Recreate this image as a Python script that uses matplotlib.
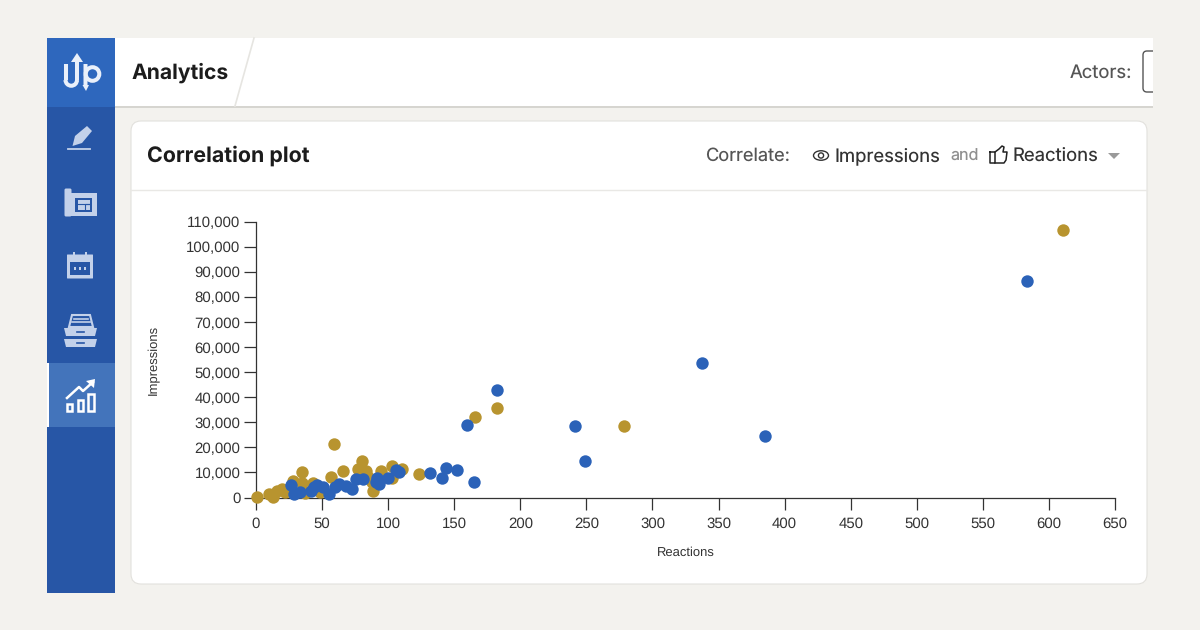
import matplotlib
matplotlib.use("Agg")
import matplotlib.pyplot as plt
from matplotlib.patches import Arc, FancyBboxPatch, Rectangle, Polygon, Circle, Ellipse
from matplotlib.ticker import FuncFormatter

plt.rcParams["text.hinting"] = "no_hinting"
plt.rcParams["text.hinting_factor"] = 1

# values
gold_x = [0.5, 10, 13, 16, 19.5, 22, 28, 34.5, 34.5, 37, 43, 48.5, 56.5, 59, 65.5, 80.5, 77, 83, 85,
          87.5, 88.7, 94.5, 102.7, 102.7, 110.7, 123, 165.7, 182.6, 278.5, 610.6]
gold_y = [300, 1300, 300, 2700, 3300, 2300, 6600, 10000, 5600, 1700, 5900, 2300, 8000, 21200, 10700,
          14600, 11500, 10600, 8300, 6300, 2500, 10400, 12600, 7700, 11500, 9400, 32000, 35600, 28500, 106800]
blue_x = [26.5, 28.8, 33, 41.4, 44, 46.4, 51, 55.5, 60, 63, 68, 73, 75.4, 80.7, 91.3, 90.8, 93, 100,
          106, 108, 132, 140.5, 144, 152, 164.7, 159.6, 182.4, 241.4, 249, 337.5, 385.2, 583.5]
blue_y = [5000, 1400, 2300, 2700, 4000, 5000, 4300, 1300, 4000, 5400, 4600, 3300, 7400, 7400, 7700,
          6300, 5300, 7700, 10800, 10200, 9600, 7900, 11800, 11000, 6200, 29000, 43000, 28500, 14600,
          53700, 24500, 86500]
x_ticks = list(range(0, 651, 50))
y_ticks = list(range(0, 110001, 10000))

BG = "#f3f2ee"
SIDE = "#2756a6"
LOGO = "#2e67bd"
ACTIVE = "#4374bb"
ICON = "#c3d1ea"
LOGO_INK = "#eaf0fa"
GOLD = "#b8942f"
BLUE = "#2b62b8"
INK = "#1c1c1c"
AXIS = "#333333"

fig = plt.figure(figsize=(12, 6.3), dpi=100, facecolor=BG)

# page chrome drawn in pixel coordinates
ui = fig.add_axes([0, 0, 1, 1])
ui.set_xlim(0, 1200)
ui.set_ylim(630, 0)
ui.axis("off")

ui.add_patch(Rectangle((115, 106), 1038, 2, color="#d6d5d0", lw=0))
ui.add_patch(Rectangle((115, 38), 1038, 68, color="white", lw=0))
ui.plot([254, 235], [38, 106], color="#e6e5e1", lw=1.2)
ui.add_patch(Rectangle((47, 107), 68, 486, color=SIDE, lw=0))
ui.add_patch(Rectangle((47, 38), 68, 69, color=LOGO, lw=0))
ui.add_patch(Rectangle((47, 363), 68, 64, color="white", lw=0))
ui.add_patch(Rectangle((49, 363), 66, 64, color=ACTIVE, lw=0))

# logo: u whose right side is the arrow, then p
ui.plot([65.5, 65.5], [64, 80], color=LOGO_INK, lw=2.9, solid_capstyle="butt")
ui.add_patch(Arc((71.25, 80), 11.5, 11.5, theta1=0, theta2=180, color=LOGO_INK, lw=2.9))
ui.add_patch(Polygon([(77, 53), (71, 62), (75, 62), (75, 80), (79, 80), (79, 62), (83, 62)],
                     color=LOGO_INK, lw=0))
ui.add_patch(Circle((92.5, 74), 6.8, fc="none", ec=LOGO_INK, lw=2.9))
ui.add_patch(Polygon([(83.5, 64), (87.5, 64), (87.5, 85), (89, 85), (86, 91), (82.5, 85), (83.5, 85)],
                     color=LOGO_INK, lw=0))

# pencil icon
ui.add_patch(Polygon([(72.5, 146), (75, 136), (87, 126), (92, 131), (82, 143)], color=ICON, lw=0))
ui.plot([68, 90], [149, 149], color=ICON, lw=1.3)

# blueprint icon
ui.add_patch(FancyBboxPatch((66, 190), 4, 25, boxstyle="round,pad=1.5", color=ICON, lw=0))
ui.add_patch(Rectangle((70, 193), 27, 23, fc=ICON, ec="none"))
ui.add_patch(Rectangle((75, 198), 17, 14, fc=SIDE, ec="none"))
ui.add_patch(Rectangle((78, 200), 12, 10, fc=ICON, ec="none"))
ui.plot([78, 90, 85, 85], [204, 204, 204, 210], color=SIDE, lw=0.8)

# calendar icon
ui.add_patch(FancyBboxPatch((67.5, 255), 25, 23, boxstyle="round,pad=0.5", color=ICON, lw=0))
ui.add_patch(Rectangle((70, 262), 20, 13, color=SIDE, lw=0))
ui.add_patch(Rectangle((73, 252), 2, 4, color=ICON, lw=0))
ui.add_patch(Rectangle((85, 252), 2, 4, color=ICON, lw=0))
for dx in [73.5, 78.5, 83.5]:
    ui.add_patch(Rectangle((dx, 267), 2.5, 2.5, color=ICON, lw=0))

# drawers icon
ui.add_patch(Polygon([(69, 327), (72, 315), (90, 315), (93, 327)], fc=SIDE, ec=ICON, lw=1.5))
for ly, x0, x1 in [(319, 74, 88), (322, 72, 90)]:
    ui.plot([x0, x1], [ly, ly], color=ICON, lw=1.2)
ui.add_patch(Polygon([(64, 328), (97, 328), (95, 336), (66, 336)], color=ICON, lw=0))
ui.add_patch(Polygon([(64, 339), (97, 339), (95, 347), (66, 347)], color=ICON, lw=0))
ui.plot([77, 84], [332, 332], color=SIDE, lw=1.2)
ui.plot([77, 84], [343, 343], color=SIDE, lw=1.2)

# analytics icon
for bx, bw, by in [(67, 5, 404), (78, 5, 400), (88, 6, 394)]:
    ui.add_patch(Rectangle((bx, by), bw, 410.5 - by, fc="none", ec="white", lw=1.8))
ui.plot([67, 79, 83, 93], [398, 387, 391, 382], color="white", lw=1.8)
ui.add_patch(Polygon([(95, 379), (86, 381), (94, 388)], color="white", lw=0))

# header text
ui.text(132, 79, "Analytics", color=INK, fontsize=15.2, fontweight="bold", family="Inter", va="baseline")
ui.text(1070, 78, "Actors:", color="#555555", fontsize=13.3, family="Inter", va="baseline")
ui.add_patch(FancyBboxPatch((1143, 51), 30, 41, boxstyle="round,pad=0,rounding_size=4",
                            fc="white", ec="#555555", lw=1))
ui.add_patch(Rectangle((1153, 38), 47, 80, color=BG, lw=0, zorder=3))

# card
ui.add_patch(FancyBboxPatch((131, 121), 1016, 463, boxstyle="round,pad=0,rounding_size=10",
                            fc="white", ec="#e2e1dd", lw=0.8))
ui.plot([131, 1147], [190, 190], color="#e9e8e5", lw=1)
ui.text(147, 162, "Correlation plot", color=INK, fontsize=15.4, fontweight="bold", family="Inter", va="baseline")
ui.text(705, 161, "Correlate:", color="#555555", fontsize=13.1, family="Inter", va="baseline")
ui.text(835, 161, "Impressions", color="#333333", fontsize=13.3, family="Inter", va="baseline")
ui.text(950, 161, "and", color="#8f8f8f", fontsize=11.6, family="Inter", va="baseline")
ui.text(1013, 161, "Reactions", color="#333333", fontsize=13.3, family="Inter", va="baseline")

# eye icon
ui.add_patch(Ellipse((821, 155.5), 15, 9.5, fc="none", ec="#333333", lw=1))
ui.add_patch(Circle((821, 155.5), 2.6, fc="none", ec="#333333", lw=1))

# thumb icon
ui.plot([990, 995, 995, 990, 990], [152, 152, 163, 163, 152], color="#222222", lw=1.1)
ui.plot([995, 999, 1002, 1004, 1003, 1007, 1006, 1004, 995],
        [152, 149, 146, 147, 152, 152, 160, 163, 163], color="#222222", lw=1.1)

# dropdown caret
ui.add_patch(Polygon([(1108, 153), (1120, 153), (1114, 159)], color="#9a9a9a", lw=0))

# chart
ax = fig.add_axes([256 / 1200, (630 - 497.5) / 630, 859 / 1200, 275.5 / 630])
ax.patch.set_alpha(0)
ax.scatter(gold_x, gold_y, s=80, color=GOLD, linewidths=0, clip_on=False, zorder=3)
ax.scatter(blue_x, blue_y, s=80, color=BLUE, linewidths=0, clip_on=False, zorder=4)
ax.set_xlim(0, 650)
ax.set_ylim(0, 110000)
ax.set_xticks(x_ticks)
ax.set_yticks(y_ticks)
ax.yaxis.set_major_formatter(FuncFormatter(lambda v, pos: f"{int(v):,}"))
ax.tick_params(length=8.3, width=0.9, color=AXIS, labelsize=10.7, labelcolor=AXIS)
ax.tick_params(axis="x", pad=5.5)
ax.tick_params(axis="y", pad=3)
for label in ax.get_xticklabels() + ax.get_yticklabels():
    label.set_family("Liberation Sans")
for side in ["top", "right"]:
    ax.spines[side].set_visible(False)
for side in ["left", "bottom"]:
    ax.spines[side].set_color(AXIS)
    ax.spines[side].set_linewidth(0.9)
ui.text(685.5, 553, "Reactions", color=AXIS, fontsize=9.5, family="Liberation Sans",
        ha="center", va="center")
ui.text(154, 360, "Impressions", color=AXIS, fontsize=9.5, family="Liberation Sans",
        ha="center", va="center", rotation=90)

fig.savefig("out.png", dpi=100, facecolor=BG)
